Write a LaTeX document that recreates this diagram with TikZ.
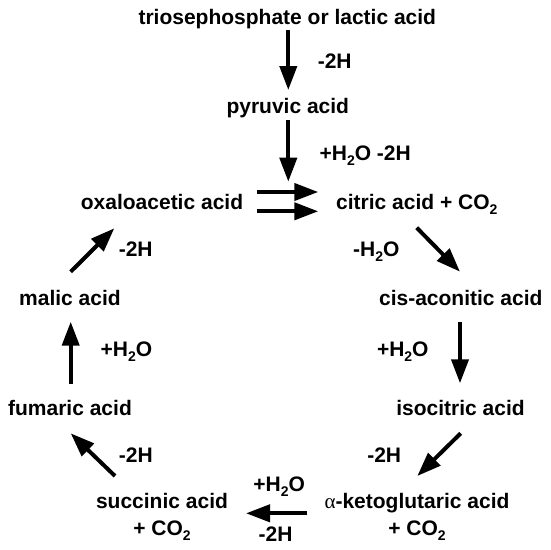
\documentclass[tikz,border=0pt]{standalone}
\usepackage{fontspec}
\setmainfont{Liberation Sans}
\newfontfamily\greekfont{Liberation Serif}
\usetikzlibrary{arrows.meta}
\newcommand{\chsub}[1]{\raisebox{-5pt}{\fontsize{14}{14}\selectfont #1}}

\begin{document}
\begin{tikzpicture}[x=1pt,y=-1pt,line width=4pt,>={Triangle[length=24pt,width=17pt]}]
      \tikzstyle{every node}=[font=\fontsize{21}{27}\selectfont\bfseries,inner sep=0pt,anchor=base]
      \tikzstyle{acid}=[align=center]
      \useasboundingbox (0,0) rectangle (550,550);
      % 
      \node (trio)  at (287.3,24)   {triosephosphate or lactic acid};
      \node (pyr)   at (287.8,113.3){pyruvic acid};
      \node (oxa)   at (162,209)    {oxaloacetic acid};
      \node (cit)   at (416.8,209)  {citric acid + CO\chsub{2}};
      \node (malic) at (70,305)     {malic acid};
      \node (cis)   at (460.8,305)  {cis-aconitic acid};
      \node (fum)   at (70,415)     {fumaric acid};
      \node (iso)   at (460.5,415)  {isocitric acid};
      \node [acid] (succ) at (162,535.5) {succinic acid\\+ CO\chsub{2}};
      \node [acid] (keto) at (417,535.5) {{\greekfont\mdseries α}-ketoglutaric acid\\+ CO\chsub{2}};
      \coordinate (entry) at (288.3,181.7);
      % 
      \path[->]
      ([xshift=1pt,yshift=-6pt]trio.base)      edge node [xshift=46.4pt,yshift=-8.3pt]  {-2H} ([xshift=.5pt,yshift=23.3pt]pyr.base)
      ([xshift=.5pt,yshift=-6.7pt]pyr.base)    edge node [xshift=76.9pt,yshift=-9.2pt]  {+H\chsub{2}O -2H} (entry)
      ([xshift=94.7pt,yshift=17pt]oxa.base)    edge ([xshift=-98.5pt,yshift=17pt]cit.base)
      ([xshift=94.7pt,yshift=-2.3pt]oxa.base)  edge ([xshift=-98.5pt,yshift=-2.3pt]cit.base)
      ([xshift=-.1pt,yshift=-18.7pt]cit.base)  edge node [xshift=-62pt,yshift=-6.3pt]   {-H\chsub{2}O} ([xshift=-.8pt,yshift=33.3pt]cis.base)
      ([xshift=-.8pt,yshift=-16.7pt]cis.base)  edge node [xshift=-57.2pt,yshift=-4.2pt] {+H\chsub{2}O} ([xshift=-.5pt,yshift=31.7pt]iso.base)
      ([xshift=.2pt,yshift=-18.3pt]iso.base)   edge node [xshift=-54.8pt,yshift=-8pt]   {-2H} ([xshift=.3pt,yshift=59.5pt]keto.base)
      ([xshift=-109.7pt,yshift=22.2pt]keto.base) edge node [xshift=2.6pt,yshift=22.3pt] {+H\chsub{2}O}
                                                    node [xshift=-1.1pt,yshift=-28.4pt]  {-2H} ([xshift=84pt,yshift=22.2pt]succ.base)
      ([xshift=-47pt,yshift=59.5pt]succ.base)  edge node [xshift=42.9pt,yshift=-8pt]    {-2H} ([xshift=.7pt,yshift=-18.3pt]fum.base)
      ([xshift=.7pt,yshift=31pt]fum.base)      edge node [xshift=55.8pt,yshift=-3.9pt]  {+H\chsub{2}O} ([xshift=.7pt,yshift=-16.7pt]malic.base)
      ([xshift=.7pt,yshift=33.3pt]malic.base)  edge node [xshift=43.2pt,yshift=-6.7pt]  {-2H} ([xshift=-47.7pt,yshift=-19.3pt]oxa.base);
    \end{tikzpicture}
\end{document}
